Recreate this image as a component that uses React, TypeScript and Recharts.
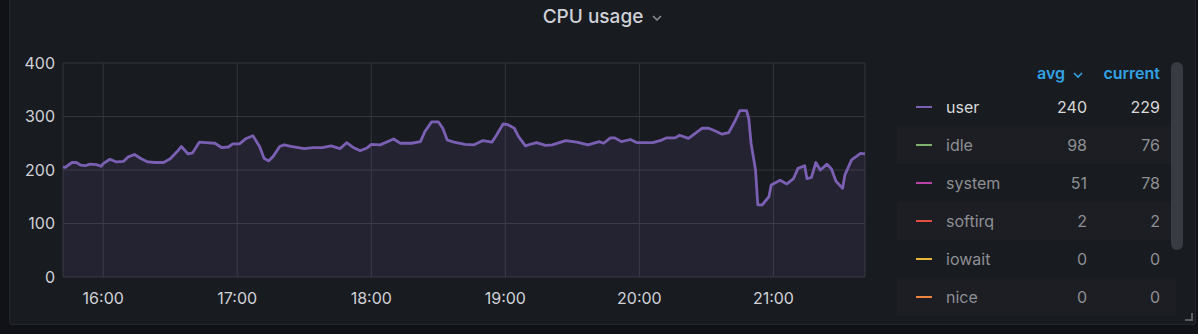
import { AreaChart, Area, XAxis, YAxis, CartesianGrid } from 'recharts';

// minutes since midnight
const times = [
  942, 943, 946, 948, 950, 952, 954, 957, 959, 960,
  963, 966, 969, 971, 974, 977, 980, 983, 987, 990,
  993, 995, 998, 1000, 1003, 1006, 1010, 1013, 1016, 1018,
  1021, 1024, 1027, 1030, 1032, 1034, 1036, 1039, 1041, 1044,
  1050, 1054, 1058, 1062, 1066, 1069, 1072, 1075, 1078, 1080,
  1084, 1090, 1093, 1098, 1102, 1104, 1107, 1110, 1112, 1114,
  1117, 1122, 1126, 1130, 1134, 1136, 1139, 1141, 1144, 1146,
  1149, 1152, 1154, 1158, 1161, 1167, 1172, 1177, 1182, 1184,
  1187, 1189, 1192, 1196, 1199, 1203, 1206, 1210, 1212, 1216,
  1218, 1222, 1228, 1231, 1234, 1237, 1240, 1243, 1245, 1248,
  1249, 1250, 1252, 1253, 1255, 1258, 1259, 1263, 1266, 1269,
  1271, 1274, 1275, 1277, 1279, 1281, 1284, 1286, 1288, 1291,
  1292, 1295, 1299, 1301,
];

const userValues = [
  206, 205, 214, 214, 209, 208, 211, 210, 207, 212,
  220, 215, 216, 224, 229, 221, 215, 214, 214, 221,
  234, 244, 230, 232, 252, 251, 250, 242, 243, 249,
  249, 259, 264, 244, 222, 217, 225, 244, 247, 244,
  240, 242, 242, 245, 240, 251, 242, 236, 241, 248,
  247, 258, 250, 250, 253, 272, 290, 290, 278, 256,
  252, 248, 247, 255, 252, 265, 286, 285, 278, 262,
  245, 249, 251, 246, 247, 255, 252, 247, 253, 250,
  260, 260, 253, 257, 251, 251, 251, 256, 260, 260,
  265, 259, 278, 278, 273, 267, 270, 293, 311, 311,
  295, 250, 200, 135, 135, 150, 172, 181, 174, 184,
  203, 208, 184, 186, 214, 200, 211, 202, 179, 166,
  191, 219, 231, 230,
];

const hourTicks = [960, 1020, 1080, 1140, 1200, 1260];
const hourLabels = ['16:00', '17:00', '18:00', '19:00', '20:00', '21:00'];
const yTicks = [0, 100, 200, 300, 400];

const seriesNames = ['user', 'idle', 'system', 'softirq', 'iowait', 'nice'];
const seriesColors = ['#7a5fb3', '#7eb26d', '#ba43a9', '#e24d42', '#eab839', '#ef843c'];
const avgValues = [240, 98, 51, 2, 0, 0];
const currentValues = [229, 76, 78, 2, 0, 0];

const data = times.map((t, i) => ({ t, user: userValues[i] }));

const FONT = 'Inter, Roboto, sans-serif';
const TEXT = '#d0d1d8';

export default function App() {
  return (
    <div
      style={{
        position: 'absolute',
        left: 0,
        top: 0,
        width: 1198,
        height: 334,
        background: '#111217',
        fontFamily: FONT,
        overflow: 'hidden',
      }}
    >
      {/* panel */}
      <div
        style={{
          position: 'absolute',
          left: 9,
          top: -4,
          width: 1185,
          height: 327,
          background: '#181b1f',
          border: '1px solid #24262b',
          borderRadius: 3,
        }}
      />
      <div
        style={{
          position: 'absolute',
          left: 0,
          top: 5,
          width: 1205,
          textAlign: 'center',
          color: TEXT,
          fontSize: 19,
          fontWeight: 500,
          lineHeight: '24px',
        }}
      >
        CPU usage
        <svg width="10" height="8" style={{ marginLeft: 9, verticalAlign: 'middle' }}>
          <path d="M1 2 L5 6 L9 2" stroke="#8e8e9a" strokeWidth="1.5" fill="none" />
        </svg>
      </div>

      <div style={{ position: 'absolute', left: 0, top: 0 }}>
        <AreaChart
          width={880}
          height={334}
          data={data}
          margin={{ top: 63, right: 15, left: 0, bottom: 27 }}
        >
          <CartesianGrid stroke="#34363c" strokeWidth={1} />
          <XAxis
            dataKey="t"
            type="number"
            domain={[942, 1301]}
            ticks={hourTicks}
            tickFormatter={(v) => hourLabels[hourTicks.indexOf(v)]}
            axisLine={false}
            tickLine={false}
            tickSize={0}
            tickMargin={16}
            height={30}
            tick={{ fill: TEXT, fontSize: 16, fontFamily: FONT }}
          />
          <YAxis
            domain={[0, 400]}
            ticks={yTicks}
            axisLine={false}
            tickLine={false}
            tickSize={0}
            tickMargin={8}
            width={63}
            tick={{ fill: TEXT, fontSize: 16, fontFamily: FONT }}
          />
          <Area
            type="linear"
            dataKey="user"
            stroke={seriesColors[0]}
            strokeWidth={2.8}
            strokeLinejoin="round"
            fill={seriesColors[0]}
            fillOpacity={0.13}
            dot={false}
            isAnimationActive={false}
          />
        </AreaChart>
      </div>

      {/* legend header */}
      <div
        style={{
          position: 'absolute',
          top: 62,
          left: 1000,
          width: 87,
          textAlign: 'right',
          color: '#33a2e5',
          fontSize: 16,
          fontWeight: 600,
          lineHeight: '22px',
        }}
      >
        avg
        <svg width="10" height="8" style={{ marginLeft: 8, marginRight: 4, verticalAlign: 'middle' }}>
          <path d="M1 2 L5 6 L9 2" stroke="#33a2e5" strokeWidth="1.6" fill="none" />
        </svg>
      </div>
      <div
        style={{
          position: 'absolute',
          top: 62,
          left: 1090,
          width: 70,
          textAlign: 'right',
          color: '#33a2e5',
          fontSize: 16,
          fontWeight: 600,
          lineHeight: '22px',
        }}
      >
        current
      </div>

      {/* legend rows */}
      {seriesNames.map((name, i) => {
        const top = 88 + i * 38;
        const main = i === 0;
        return (
          <div
            key={name}
            style={{
              position: 'absolute',
              left: 897,
              top,
              width: i === 5 ? 279 : 274,
              height: 38,
              background: i % 2 === 1 ? '#1c1e23' : 'transparent',
              fontSize: 16,
              lineHeight: '38px',
              color: main ? '#d8d9da' : '#8e8f94',
            }}
          >
            <div
              style={{
                position: 'absolute',
                left: 19,
                top: 18,
                width: 16,
                height: 2,
                background: seriesColors[i],
              }}
            />
            <div style={{ position: 'absolute', left: 49 }}>{name}</div>
            <div style={{ position: 'absolute', left: 140, width: 50, textAlign: 'right' }}>
              {avgValues[i]}
            </div>
            <div style={{ position: 'absolute', left: 213, width: 50, textAlign: 'right' }}>
              {currentValues[i]}
            </div>
          </div>
        );
      })}

      {/* scrollbar */}
      <div
        style={{
          position: 'absolute',
          left: 1171,
          top: 62,
          width: 12,
          height: 188,
          borderRadius: 6,
          background: '#393b43',
        }}
      />
      {/* resize handle */}
      <div
        style={{
          position: 'absolute',
          left: 1185,
          top: 313,
          width: 6,
          height: 6,
          borderRight: '2px solid #5a5c63',
          borderBottom: '2px solid #5a5c63',
        }}
      />
    </div>
  );
}
